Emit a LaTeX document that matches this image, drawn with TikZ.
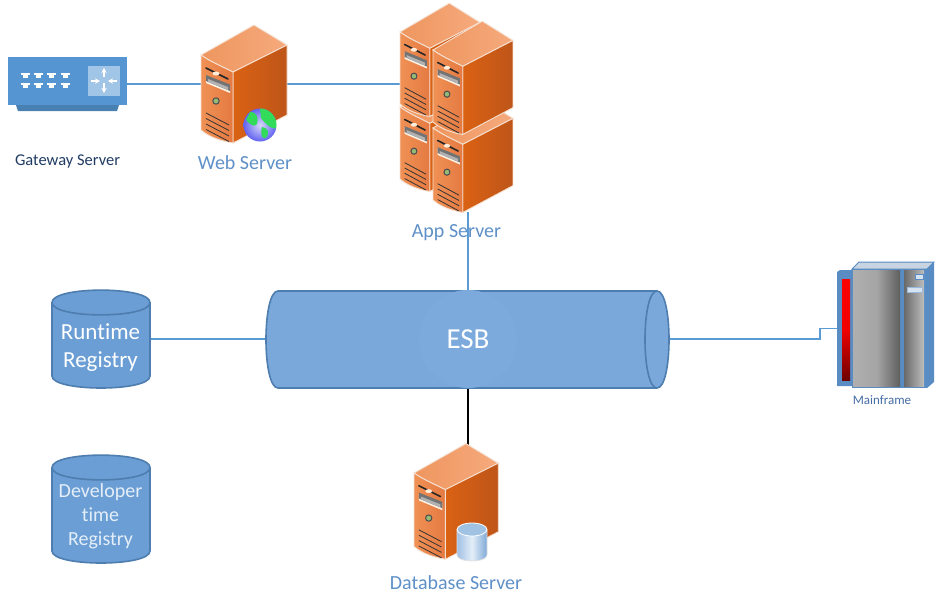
\documentclass[tikz,border=0pt]{standalone}
\usepackage{fontspec}
\setmainfont[Ligatures={NoCommon}]{Carlito}
\usetikzlibrary{arrows.meta}
\definecolor{linkblue}{RGB}{91,155,213}
\definecolor{esbfill}{RGB}{122,168,218}
\definecolor{esbedge}{RGB}{78,125,175}
\definecolor{esbglow}{RGB}{124,170,220}
\definecolor{cylfill}{RGB}{107,158,212}
\definecolor{lbl}{RGB}{95,145,200}
\definecolor{gwblue}{RGB}{85,150,210}
\definecolor{gwtext}{RGB}{32,60,100}
\definecolor{mfblue}{RGB}{88,140,195}
\definecolor{mftext}{RGB}{70,110,165}
\definecolor{mftop}{RGB}{200,212,225}
\definecolor{devtext}{RGB}{228,238,248}
\definecolor{srvedge}{RGB}{245,225,210}
\definecolor{topa}{RGB}{238,150,95}
\definecolor{topb}{RGB}{246,170,125}
\definecolor{sidea}{RGB}{218,98,20}
\definecolor{sideb}{RGB}{190,85,25}
\definecolor{fronta}{RGB}{240,145,85}
\definecolor{frontb}{RGB}{228,122,65}
\definecolor{ledgreen}{RGB}{150,185,120}
\definecolor{land}{RGB}{50,220,90}
\definecolor{globea}{RGB}{215,215,250}
\definecolor{globeb}{RGB}{95,95,240}
\definecolor{dba}{RGB}{160,192,228}
\definecolor{dbm}{RGB}{228,238,248}
\definecolor{dbb}{RGB}{125,168,214}
\definecolor{dbtop}{RGB}{160,195,228}
\definecolor{dbrim}{RGB}{225,225,225}
\definecolor{reda}{RGB}{255,0,0}
\definecolor{redb}{RGB}{240,0,0}
\definecolor{redc}{RGB}{110,0,0}
\definecolor{gra}{RGB}{175,175,175}
\definecolor{grb}{RGB}{165,165,165}
\definecolor{grc}{RGB}{95,95,95}
\definecolor{grd}{RGB}{105,105,105}
\definecolor{gre}{RGB}{190,190,190}
\tikzset{
  hit/.style={inner sep=0pt,outer sep=0pt,minimum width=#1},
  link/.style={draw=linkblue,line width=1.1pt},
  caption/.style={text=lbl,font=\fontsize{20}{22}\selectfont,inner sep=0pt},
  cyl/.style={fill=cylfill,draw=esbedge,line width=1.6pt},
  inlab/.style={text=white,align=center,inner sep=0pt}
}
% server at (x,y) = top-left corner of the front face
\newcommand{\srvbox}[3]{%
\begin{scope}[shift={(#1,#2)},#3]
  \shade[left color=topa,right color=topb,draw=srvedge,line width=.9pt]
    (0,0) -- (53,-30) -- (86,-10) -- (32,17) .. controls (20,11) and (10,7) .. (0,0) -- cycle;
  \shade[left color=sidea,right color=sideb,draw=srvedge,line width=.9pt]
    (32,17) -- (86,-10) -- (86,60) -- (32,88) -- cycle;
  \shade[left color=fronta,right color=frontb,draw=srvedge,line width=.9pt]
    (0,0) .. controls (10,7) and (20,11) .. (32,17) -- (32,88) .. controls (20,86) and (8,82) .. (0,75) -- cycle;
  \draw[black!85,line width=1.6pt,line cap=round] (5,13) -- (27,24);
  \fill[white!85!orange] (15,18.5) ellipse (3.5 and 2);
  \fill[white!90!orange] (5,21) -- (29,30.5) -- (29,38) -- (5,28) -- cycle;
  \fill[black!55] (5,20) -- (29,29.5) -- (29,36) -- (5,26) -- cycle;
  \fill[black!30] (7,24) -- (27,32) -- (27,35) -- (7,27) -- cycle;
  \filldraw[fill=ledgreen,draw=black!70,line width=1pt] (15,46) circle (3.2);
  \foreach \v in {0,5.5,11,16.5}
    \draw[black!80,line width=.8pt] (5,{58+\v}) -- (28,{70+\v});
\end{scope}}
\begin{document}
\begin{tikzpicture}[x=1pt,y=-1pt]
\useasboundingbox[fill=white] (0,0) rectangle (937,603);

% invisible hit nodes that carry the connectors
\node[hit=119pt,minimum height=54pt] (gw) at (67.5,84) {};
\node[hit=86pt,minimum height=118pt] (web) at (244,84) {};
\node[hit=113pt,minimum height=209pt] (app) at (456.5,107.5) {};
\node[hit=402pt,minimum height=98pt] (esb) at (468,339) {};
\node[hit=84pt,minimum height=118pt] (db) at (456,504) {};
\node[hit=98pt,minimum height=98pt] (rt) at (101,339) {};
\node[hit=98pt,minimum height=126pt] (mf) at (886,325) {};
\coordinate (mfin) at (837,328.5);
\coordinate (mfmid) at (820,339);

% connectors
\draw[link] (gw.east) -- (web.west);
\draw[link] (web.east) -- (app.west |- web.east);
\draw[link] (rt.east) -- (esb.west);
\draw[link] (esb.east) -- (mfmid) -- (mfmid |- mfin) -- (mfin);
\draw[black,line width=1.2pt] (esb.south) -- (esb.south |- db.north);

% gateway
\fill[gwblue!85!black] (16,105) -- (119,105) -- (117,111) -- (18,111) -- cycle;
\fill[gwblue] (8,57) rectangle (127,105);
\fill[white!45!gwblue] (88,66) rectangle (120,96);
\foreach \px in {25,38.5,51.5,65} \foreach \py in {75,85}{
  \fill[white] ({\px-4.5},{\py-2.5}) rectangle ({\px+4.5},\py);
  \fill[white] ({\px-2.5},\py) rectangle ({\px+2.5},{\py+2.5});
}
\begin{scope}[white,line width=1.1pt,-{Stealth[length=5pt,width=5.5pt]}]
  \draw (104,77) -- (104,68);
  \draw (104,83) -- (104,93);
  \draw (91,81) -- (100,81);
  \draw (117,81) -- (108,81);
\end{scope}
\node[inner sep=0pt,text=gwtext,font=\fontsize{16.5}{19}\selectfont] (gwl) at (67.5,161) {Gateway Server};

% web server
\srvbox{201}{55}{}
\begin{scope}
  \clip (260,125) circle (16.5);
  \shade[inner color=globea,outer color=globeb] (243,108) rectangle (277,142);
  \fill[land] (260,108) .. controls (272,108) and (278,118) .. (278,128) .. controls (270,130) and (266,124) .. (261,118) -- cycle;
  \fill[land] (250,112) .. controls (257,112) and (259,118) .. (257,124) .. controls (254,128) and (250,124) .. (246,120) -- cycle;
  \fill[land] (262,127) .. controls (268,128) and (270,132) .. (266,138) .. controls (262,140) and (260,134) .. (262,127) -- cycle;
\end{scope}
\node[caption] (webl) at (245,163) {Web Server};

% app servers
\srvbox{400}{107}{xscale=.93,yscale=.96}
\srvbox{433}{128}{xscale=.93,yscale=.96}
\srvbox{400}{32}{xscale=.93,yscale=.96}
\srvbox{433}{50}{xscale=.93,yscale=.96}
\node[caption] (appl) at (456.5,233) {App Server};
\draw[link] (esb.north) -- (esb.north |- app.south);

% ESB
\path[fill=esbfill,draw=esbedge,line width=1.6pt] (278,291) -- (657,291) .. controls (673,291) and (673,388) .. (657,388) -- (278,388) .. controls (262,388) and (262,291) .. (278,291) -- cycle;
\draw[esbedge,line width=1.6pt] (657,291) .. controls (641,291) and (641,388) .. (657,388);
\fill[esbglow] (468,339) circle (49);
\node[inlab,font=\fontsize{29}{32}\selectfont] at (esb.center) {ESB};

% registries
\path[cyl] (52,302.5) -- (52,376) .. controls (52,392) and (150,392) .. (150,376) -- (150,302.5) .. controls (150,286) and (52,286) .. (52,302.5) -- cycle;
\draw[esbedge,line width=1.6pt] (52,302.5) .. controls (52,319) and (150,319) .. (150,302.5);
\node[inlab,font=\fontsize{23}{28}\selectfont] (rtl) at (100.5,348) {Runtime\\Registry};
\path[cyl] (52,467.5) -- (52,551) .. controls (52,567) and (150,567) .. (150,551) -- (150,467.5) .. controls (150,451) and (52,451) .. (52,467.5) -- cycle;
\draw[esbedge,line width=1.6pt] (52,467.5) .. controls (52,484) and (150,484) .. (150,467.5);
\node[inlab,text=devtext,font=\fontsize{20}{24}\selectfont] (dvl) at (100.5,516) {Developer\\time\\Registry};

% database server
\srvbox{414}{473}{scale=.98}
\shade[left color=dba,right color=dbb,middle color=dbm,draw=dbrim,line width=.8pt]
  (457,530) -- (457,555) .. controls (457,563) and (487,563) .. (487,555) -- (487,530) -- cycle;
\filldraw[fill=dbtop,draw=white,line width=.8pt] (472,529.5) ellipse (15 and 6.5);
\node[caption] (dbl) at (456,583) {Database Server};

% mainframe
\fill[mfblue] (837,272) -- (840,270) -- (852,270) -- (852,386) -- (837,386) -- cycle;
\shade[top color=reda,bottom color=redc,middle color=redb] (842,279) rectangle (850,380);
\filldraw[fill=mftop,draw=mfblue,line width=1pt] (852,269) -- (859,262) -- (934,262) -- (927,269) -- cycle;
\fill[mfblue] (927,269) -- (934,262) -- (934,382) -- (927,388) -- cycle;
\fill[mfblue] (852,269) rectangle (927,388);
\shade[left color=gra,right color=grc,middle color=grb] (853,270) rectangle (900,386);
\shade[left color=grd,right color=gre] (904,270) rectangle (924,386);
\filldraw[fill=white!75!mfblue,draw=mfblue,line width=1pt] (915,274) rectangle (923,279);
\filldraw[fill=white!75!mfblue,draw=white!40!mfblue,line width=.8pt] (907,287) rectangle (922,292);
\node[inner sep=0pt,text=mftext,font=\fontsize{13}{15}\selectfont] (mfl) at (882,400.5) {Mainframe};
\end{tikzpicture}
\end{document}
